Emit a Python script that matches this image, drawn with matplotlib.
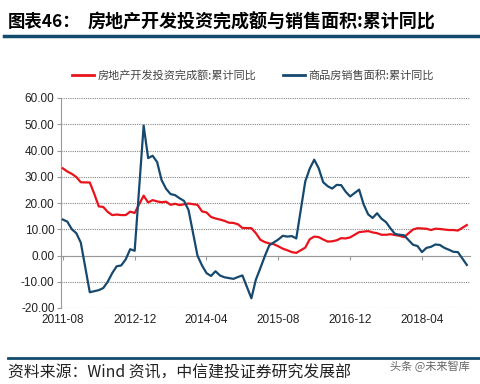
import matplotlib
matplotlib.use("Agg")
import matplotlib.pyplot as plt
from matplotlib.lines import Line2D

plt.rcParams['font.family'] = ['Noto Sans CJK SC', 'DejaVu Sans']

months = [
    "2011-08", "2011-09", "2011-10", "2011-11", "2011-12",
    "2012-02", "2012-03", "2012-04", "2012-05", "2012-06", "2012-07", "2012-08", "2012-09", "2012-10", "2012-11", "2012-12",
    "2013-02", "2013-03", "2013-04", "2013-05", "2013-06", "2013-07", "2013-08", "2013-09", "2013-10", "2013-11", "2013-12",
    "2014-02", "2014-03", "2014-04", "2014-05", "2014-06", "2014-07", "2014-08", "2014-09", "2014-10", "2014-11", "2014-12",
    "2015-02", "2015-03", "2015-04", "2015-05", "2015-06", "2015-07", "2015-08", "2015-09", "2015-10", "2015-11", "2015-12",
    "2016-02", "2016-03", "2016-04", "2016-05", "2016-06", "2016-07", "2016-08", "2016-09", "2016-10", "2016-11", "2016-12",
    "2017-02", "2017-03", "2017-04", "2017-05", "2017-06", "2017-07", "2017-08", "2017-09", "2017-10", "2017-11", "2017-12",
    "2018-02", "2018-03", "2018-04", "2018-05", "2018-06", "2018-07", "2018-08", "2018-09", "2018-10", "2018-11", "2018-12",
    "2019-02",
]

investment = [
    33.2, 32.0, 31.1, 29.9, 27.9,
    27.8, 23.5, 18.7, 18.5, 16.6, 15.4, 15.6, 15.4, 15.4, 16.7, 16.2,
    22.8, 20.2, 21.1, 20.6, 20.3, 20.5, 19.3, 19.7, 19.2, 19.5, 19.8,
    19.3, 16.8, 16.4, 14.7, 14.1, 13.7, 13.2, 12.5, 12.4, 11.9, 10.5,
    10.4, 8.5, 6.0, 5.1, 4.6, 4.3, 3.5, 2.6, 2.0, 1.3, 1.0,
    3.0, 6.2, 7.2, 7.0, 6.1, 5.3, 5.4, 5.8, 6.6, 6.5, 6.9,
    8.9, 9.1, 9.3, 8.8, 8.5, 7.9, 7.9, 8.1, 7.8, 7.5, 7.0,
    9.9, 10.4, 10.3, 10.2, 9.7, 10.2, 10.1, 9.9, 9.7, 9.7, 9.5,
    11.6,
]

sales_area = [
    13.7, 12.9, 10.0, 8.5, 4.9,
    -14.0, -13.6, -13.2, -12.4, -10.0, -6.7, -4.1, -3.8, -1.5, 2.4, 1.8,
    49.5, 37.1, 38.0, 35.6, 28.7, 25.4, 23.4, 23.0, 21.8, 20.8, 17.3,
    -0.1, -3.8, -6.7, -7.8, -6.0, -7.6, -8.3, -8.6, -8.9, -8.2, -7.6,
    -16.3, -9.2, -4.8, -0.2, 3.9, 5.0, 6.1, 7.5, 7.2, 7.4, 6.5,
    28.2, 33.1, 36.5, 33.2, 27.9, 26.4, 25.5, 26.9, 26.8, 24.3, 22.5,
    25.1, 19.5, 15.7, 14.3, 16.1, 14.0, 12.7, 10.3, 8.2, 7.9, 7.7,
    4.1, 3.6, 1.3, 2.9, 3.3, 4.2, 4.0, 2.9, 2.2, 1.4, 1.3,
    -3.6,
]

tick_labels = ["2011-08", "2012-12", "2014-04", "2015-08", "2016-12", "2018-04"]
series_names = ["房地产开发投资完成额:累计同比", "商品房销售面积:累计同比"]
title_prefix = "图表46："
title_text = "房地产开发投资完成额与销售面积:累计同比"
source_text = "资料来源：Wind 资讯，中信建投证券研究发展部"
watermark = "头条 @未来智库"


def month_index(s):
    y, m = s.split("-")
    return (int(y) - 2011) * 12 + (int(m) - 8)


x = [month_index(s) for s in months]
tick_pos = [month_index(s) for s in tick_labels]

RED = "#e8131b"
BLUE = "#17496f"
BAR = "#124b6e"

fig = plt.figure(figsize=(4.8, 3.84), dpi=100)
ax = fig.add_axes([61.5 / 480, 1 - 308 / 384, (470 - 61.5) / 480, (308 - 98) / 384])

ax.plot(x, investment, color=RED, lw=1.6, zorder=3)
ax.plot(x, sales_area, color=BLUE, lw=1.6, zorder=3)

ax.set_ylim(-20, 60)
ax.set_xlim(-0.3, 90.7)
ax.set_yticks(range(-20, 61, 10))
ax.set_yticklabels([f"{v:.2f}" for v in range(-20, 61, 10)],
                   family=['Liberation Sans', 'DejaVu Sans'], fontsize=8.5, color="#222222")
ax.yaxis.grid(True, linestyle=(0, (1, 1)), color="#888888", lw=0.8)
ax.set_axisbelow(True)

for s in ["top", "right"]:
    ax.spines[s].set_visible(False)
ax.spines["left"].set_color("#999999")
ax.spines["bottom"].set_position(("data", 0))
ax.spines["bottom"].set_color("#999999")
ax.tick_params(axis="y", length=3, color="#999999", pad=2)
ax.set_xticks(tick_pos)
ax.tick_params(axis="x", length=3, color="#999999", labelbottom=False)

sec = ax.secondary_xaxis(0)
sec.set_xticks(tick_pos)
sec.set_xticklabels(tick_labels, family=['Liberation Sans', 'DejaVu Sans'], fontsize=8.5, color="#222222")
sec.tick_params(length=0, pad=4)
sec.spines["bottom"].set_visible(False)

handles = [Line2D([], [], color=RED, lw=2), Line2D([], [], color=BLUE, lw=2)]
leg = fig.legend(handles, series_names, loc="center", bbox_to_anchor=(253 / 480, 1 - 75 / 384),
                 ncol=2, frameon=False, fontsize=8, handlelength=2.0, handletextpad=0.3,
                 columnspacing=2.4, labelcolor="#444444")

fig.text(8 / 480, 1 - 22 / 384, title_prefix, fontsize=12.5, fontweight="bold", va="center", ha="left")
fig.text(88 / 480, 1 - 22 / 384, title_text, fontsize=13, fontweight="bold", va="center", ha="left")

fig.add_artist(Line2D([4 / 480, 1], [1 - 36 / 384, 1 - 36 / 384], color=BAR, lw=2.5))
fig.add_artist(Line2D([8 / 480, 1], [1 - 358 / 384, 1 - 358 / 384], color=BAR, lw=2.0))

fig.text(8 / 480, 1 - 373 / 384, source_text, fontsize=11.4, va="center", ha="left", color="#222222")
fig.text(470 / 480, 1 - 366 / 384, watermark, fontsize=8, va="center", ha="right", color="#666666")

fig.savefig("out.png", dpi=100)
